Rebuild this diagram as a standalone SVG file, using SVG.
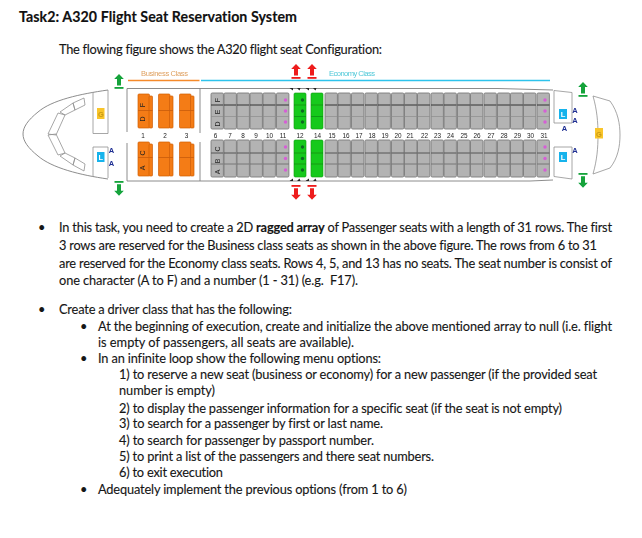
<svg xmlns="http://www.w3.org/2000/svg" width="642" height="538" viewBox="0 0 642 538">
<style>
text{font-family:Lato,"Liberation Sans",sans-serif;font-variant-ligatures:none}
.t{font-size:12.8px;fill:#161616;stroke:#161616;stroke-width:.12}
.h{font-size:14.2px;font-weight:700;fill:#111;stroke:#111;stroke-width:.15}
.n{font-family:"Liberation Sans",Arial,sans-serif;font-size:6.4px;fill:#222;text-anchor:middle}
.c{font-family:"Liberation Sans",Arial,sans-serif;font-size:7.500px;text-anchor:middle;font-weight:700}
.o{fill:none;stroke:#808080;stroke-width:.9}
.s{fill:none;stroke:#909090;stroke-width:.8}
.g{fill:#b3b3b3;stroke:#7c7c7c;stroke-width:.9}
.or{fill:#f47b16;stroke:#d0600a;stroke-width:.7}
.gr{fill:#16c91d;stroke:#0c9a12;stroke-width:.6}
.a{font-family:"Liberation Sans",Arial,sans-serif;font-size:7.500px;font-weight:700;fill:#1d2d92;text-anchor:middle}
.l{font-family:"Liberation Sans",Arial,sans-serif;font-size:7px;fill:#222;text-anchor:middle}
.cap{font-family:"Liberation Sans",Arial,sans-serif;font-size:7.600px;text-anchor:middle}
</style>
<defs>
<filter id="soft" x="-2%" y="-2%" width="104%" height="104%"><feGaussianBlur stdDeviation="0.35"/></filter>
<g id="gt"><rect class="g" x="0" y="93" width="12.400" height="36" rx="1.200"/><path d="M0 105h12.400" stroke="#333" stroke-width="1"/><path d="M0 116.500h12.400" stroke="#8c8c8c" stroke-width=".7"/></g>
<g id="gb"><rect class="g" x="0" y="140" width="12.400" height="37" rx="1.200"/><path d="M0 153h12.400" stroke="#555" stroke-width="1"/><path d="M0 164h12.400" stroke="#707070" stroke-width=".9"/></g>
<g id="ot"><rect class="or" x="0" y="94" width="11.500" height="34" rx="1"/><rect class="or" x="11" y="96" width="3.500" height="32" rx=".8"/><path d="M0 110.500h14.500" stroke="#c85c08" stroke-width=".8"/></g>
<g id="ob"><rect class="or" x="0" y="142" width="11.500" height="34" rx="1"/><rect class="or" x="11" y="144" width="3.500" height="32" rx=".8"/><path d="M0 157.500h14.500" stroke="#c85c08" stroke-width=".8"/></g>
<g id="grt"><rect class="gr" x="0" y="93" width="12" height="36" rx="1.200"/><path d="M0 105h12" stroke="#0a7d10" stroke-width=".6"/><path d="M0 116.500h12" stroke="#0a7d10" stroke-width=".6"/></g>
<g id="grb"><rect class="gr" x="0" y="140" width="12" height="37" rx="1.200"/><path d="M0 153h12" stroke="#0a7d10" stroke-width=".6"/><path d="M0 164h12" stroke="#0a7d10" stroke-width=".6"/></g>
<g id="up"><path d="M-2 11.500V5H-4.800L0 0L4.800 5H2V11.500Z"/><rect x="-4.500" y="13" width="9" height="1.800"/></g>
<g id="dn"><rect x="-4.500" y="0" width="9" height="1.800"/><path d="M-2 3.300V9.800H-4.800L0 14.800L4.800 9.800H2V3.300Z"/></g>
<g id="mg"><circle cy="100" r="1.700"/><circle cy="111" r="1.700"/><circle cy="122" r="1.700"/><circle cy="147" r="1.700"/><circle cy="158.500" r="1.700"/><circle cy="170" r="1.700"/></g>
</defs>

<g id="heading">
<text class="h" x="19" y="22" textLength="278">Task2: A320 Flight Seat Reservation System</text>
<text class="t" x="59" y="54" textLength="323">The flowing figure shows the A320 flight seat Configuration:</text>
</g>

<g id="seat-map" filter="url(#soft)">
<g id="cabin-labels">
<text class="cap" x="164.500" y="76" fill="#dfa060" textLength="47">Business Class</text>
<text class="cap" x="352" y="76" fill="#4fc8d8" textLength="46">Economy Class</text>
<path d="M128 80.500H199.500" stroke="#f58a2c" stroke-width="1.700"/>
<path d="M201 80.500H550" stroke="#2ec3ec" stroke-width="1.700"/>
</g>
<g id="fuselage">
<path class="o" d="M108 90C80 94 52 100 38 112C28 120 23 127 23 134C23 141 28 148 38 156C52 168 80 175 108 179"/>
<path class="s" d="M93 92V133.500H108V90M93 147V177M93 147H108V178"/>
<path class="s" d="M48 134L58 113L65 115L56 135ZM60 112L73 103L75 110L65 115ZM73 103L84 98L85 105L75 110Z"/>
<path class="s" d="M48 135L58 155L65 153L56 134ZM60 156L73 165L75 158L65 153ZM73 165L84 171L85 164L75 158Z"/>
<path class="o" d="M127 132V88.500H498L553 90M127 143V181H200M200 181H530L553 180M200 88.500V133M200 142V181"/>
<path class="s" d="M554 90.500L572 92.500V123H554ZM554 147H572V179L554 176.500Z"/>
<path class="s" d="M593 96L610 101C618 112 620 124 620 135C620 146 618 158 610 168L593 174C597 160 598 148 598 135C598 122 597 110 593 96Z"/>
</g>
<g id="facilities">
<rect x="97" y="108" width="7.500" height="11" fill="#f9c52c"/><text class="c" x="100.800" y="116.500" fill="#c99a15">G</text>
<rect x="97" y="152" width="7.500" height="10" fill="#19b3ec"/><text class="c" x="100.800" y="160" fill="#fff">L</text>
<rect x="559" y="109" width="8" height="10" fill="#19b3ec"/><text class="c" x="563" y="117" fill="#fff">L</text>
<rect x="559" y="152" width="8" height="10" fill="#19b3ec"/><text class="c" x="563" y="160" fill="#fff">L</text>
<rect x="595" y="128" width="8" height="10.500" fill="#f9c52c"/><text class="c" x="599" y="136.500" fill="#c99a15">G</text>
<text class="a" x="111.500" y="153">A</text><text class="a" x="111.500" y="166">A</text>
<text class="a" x="575" y="113">A</text><text class="a" x="575" y="123">A</text><text class="a" x="564.500" y="131">A</text><text class="a" x="575" y="153">A</text>
</g>
<g id="exits">
<g fill="#12a33a"><use href="#up" x="119" y="74"/><use href="#dn" x="119" y="181"/><use href="#up" x="583" y="82"/><use href="#dn" x="583" y="173"/></g>
<g fill="#ee1b1b"><use href="#up" x="296" y="64"/><use href="#up" x="312" y="64"/><use href="#dn" x="296" y="185"/><use href="#dn" x="312" y="185"/></g>
<path d="M289.500 88h3.500v2.500zM297 88h3.500l-1 2.500zM305.500 88h3.500v2.500zM313 88h3.500l-1 2.500zM289.500 181h3.500v-2.500zM297 181h3.500l-1 -2.500zM305.500 181h3.500v-2.500zM313 181h3.500l-1 -2.500z" fill="#222"/>
</g>
<g id="business-seats">
<use href="#ot" x="138"/><use href="#ot" x="158.500"/><use href="#ot" x="179.500"/>
<use href="#ob" x="138"/><use href="#ob" x="158.500"/><use href="#ob" x="179.500"/>
</g>
<g id="economy-seats">
<use href="#gt" x="211"/><use href="#gt" x="224"/><use href="#gt" x="237"/><use href="#gt" x="250"/><use href="#gt" x="263"/><use href="#gt" x="276.500"/><use href="#gt" x="325"/><use href="#gt" x="338"/><use href="#gt" x="351.500"/><use href="#gt" x="365"/><use href="#gt" x="378"/><use href="#gt" x="391.500"/><use href="#gt" x="404.500"/><use href="#gt" x="417.500"/><use href="#gt" x="431"/><use href="#gt" x="444"/><use href="#gt" x="457.500"/><use href="#gt" x="470.500"/><use href="#gt" x="484"/><use href="#gt" x="497.500"/><use href="#gt" x="510.500"/><use href="#gt" x="523.500"/><use href="#gt" x="537"/>
<use href="#gb" x="211"/><use href="#gb" x="224"/><use href="#gb" x="237"/><use href="#gb" x="250"/><use href="#gb" x="263"/><use href="#gb" x="276.500"/><use href="#gb" x="325"/><use href="#gb" x="338"/><use href="#gb" x="351.500"/><use href="#gb" x="365"/><use href="#gb" x="378"/><use href="#gb" x="391.500"/><use href="#gb" x="404.500"/><use href="#gb" x="417.500"/><use href="#gb" x="431"/><use href="#gb" x="444"/><use href="#gb" x="457.500"/><use href="#gb" x="470.500"/><use href="#gb" x="484"/><use href="#gb" x="497.500"/><use href="#gb" x="510.500"/><use href="#gb" x="523.500"/><use href="#gb" x="537"/>
<use href="#grt" x="294"/><use href="#grt" x="311"/><use href="#grb" x="294"/><use href="#grb" x="311"/>
<use href="#mg" x="285.500" fill="#d65fd6"/><use href="#mg" x="545" fill="#d65fd6"/><use href="#mg" x="302.500" fill="#0b6b22"/>
</g>
<g id="seat-letters">
<text class="l" transform="translate(145,105) rotate(-90)">F</text><text class="l" transform="translate(145,119) rotate(-90)">D</text>
<text class="l" transform="translate(145,153) rotate(-90)">C</text><text class="l" transform="translate(145,168) rotate(-90)">A</text>
<text class="l" transform="translate(219.500,100) rotate(-90)">F</text><text class="l" transform="translate(219.500,112) rotate(-90)">E</text><text class="l" transform="translate(219.500,124) rotate(-90)">D</text>
<text class="l" transform="translate(219.500,149) rotate(-90)">C</text><text class="l" transform="translate(219.500,161) rotate(-90)">B</text><text class="l" transform="translate(219.500,172) rotate(-90)">A</text>
</g>
<g id="row-numbers">
<text class="n" x="143" y="138">1</text><text class="n" x="165" y="138">2</text><text class="n" x="186.500" y="138">3</text>
<text class="n" x="215.500" y="138">6</text><text class="n" x="230" y="138">7</text><text class="n" x="243" y="138">8</text><text class="n" x="256" y="138">9</text><text class="n" x="269.500" y="138">10</text><text class="n" x="283" y="138">11</text><text class="n" x="300" y="138">12</text><text class="n" x="317.500" y="138">14</text>
<text class="n" x="332" y="138">15</text><text class="n" x="346" y="138">16</text><text class="n" x="359" y="138">17</text><text class="n" x="372" y="138">18</text><text class="n" x="385" y="138">19</text><text class="n" x="398" y="138">20</text><text class="n" x="410" y="138">21</text><text class="n" x="424.500" y="138">22</text><text class="n" x="437.500" y="138">23</text><text class="n" x="450.500" y="138">24</text><text class="n" x="464" y="138">25</text><text class="n" x="477" y="138">26</text><text class="n" x="491" y="138">27</text><text class="n" x="504" y="138">28</text><text class="n" x="517.500" y="138">29</text><text class="n" x="530.500" y="138">30</text><text class="n" x="544" y="138">31</text>
</g>
</g>

<g id="body-text">
<text class="t" x="38" y="232">•</text>
<text class="t" x="59" y="232" textLength="553">In this task, you need to create a 2D <tspan font-weight="700">ragged array</tspan> of Passenger seats with a length of 31 rows. The first</text>
<text class="t" x="59" y="250" textLength="538">3 rows are reserved for the Business class seats as shown in the above figure. The rows from 6 to 31</text>
<text class="t" x="59" y="268" textLength="553">are reserved for the Economy class seats. Rows 4, 5, and 13 has no seats. The seat number is consist of</text>
<text class="t" x="59" y="285" textLength="299" xml:space="preserve">one character (A to F) and a number (1 - 31) (e.g.  F17).</text>
<text class="t" x="38" y="314">•</text>
<text class="t" x="59" y="314" textLength="233">Create a driver class that has the following:</text>
<text class="t" x="80" y="331">•</text>
<text class="t" x="98" y="331" textLength="514">At the beginning of execution, create and initialize the above mentioned array to null (i.e. flight</text>
<text class="t" x="98" y="347" textLength="256">is empty of passengers, all seats are available).</text>
<text class="t" x="80" y="363">•</text>
<text class="t" x="98" y="363" textLength="283">In an infinite loop show the following menu options:</text>
<text class="t" x="119" y="379" textLength="478">1) to reserve a new seat (business or economy) for a new passenger (if the provided seat</text>
<text class="t" x="119" y="395" textLength="96">number is empty)</text>
<text class="t" x="119" y="413" textLength="443">2) to display the passenger information for a specific seat (if the seat is not empty)</text>
<text class="t" x="119" y="428" textLength="264">3) to search for a passenger by first or last name.</text>
<text class="t" x="119" y="445" textLength="255">4) to search for passenger by passport number.</text>
<text class="t" x="119" y="461" textLength="315">5) to print a list of the passengers and there seat numbers.</text>
<text class="t" x="119" y="477" textLength="104">6) to exit execution</text>
<text class="t" x="80" y="494">•</text>
<text class="t" x="98" y="494" textLength="309">Adequately implement the previous options (from 1 to 6)</text>
</g>
</svg>
